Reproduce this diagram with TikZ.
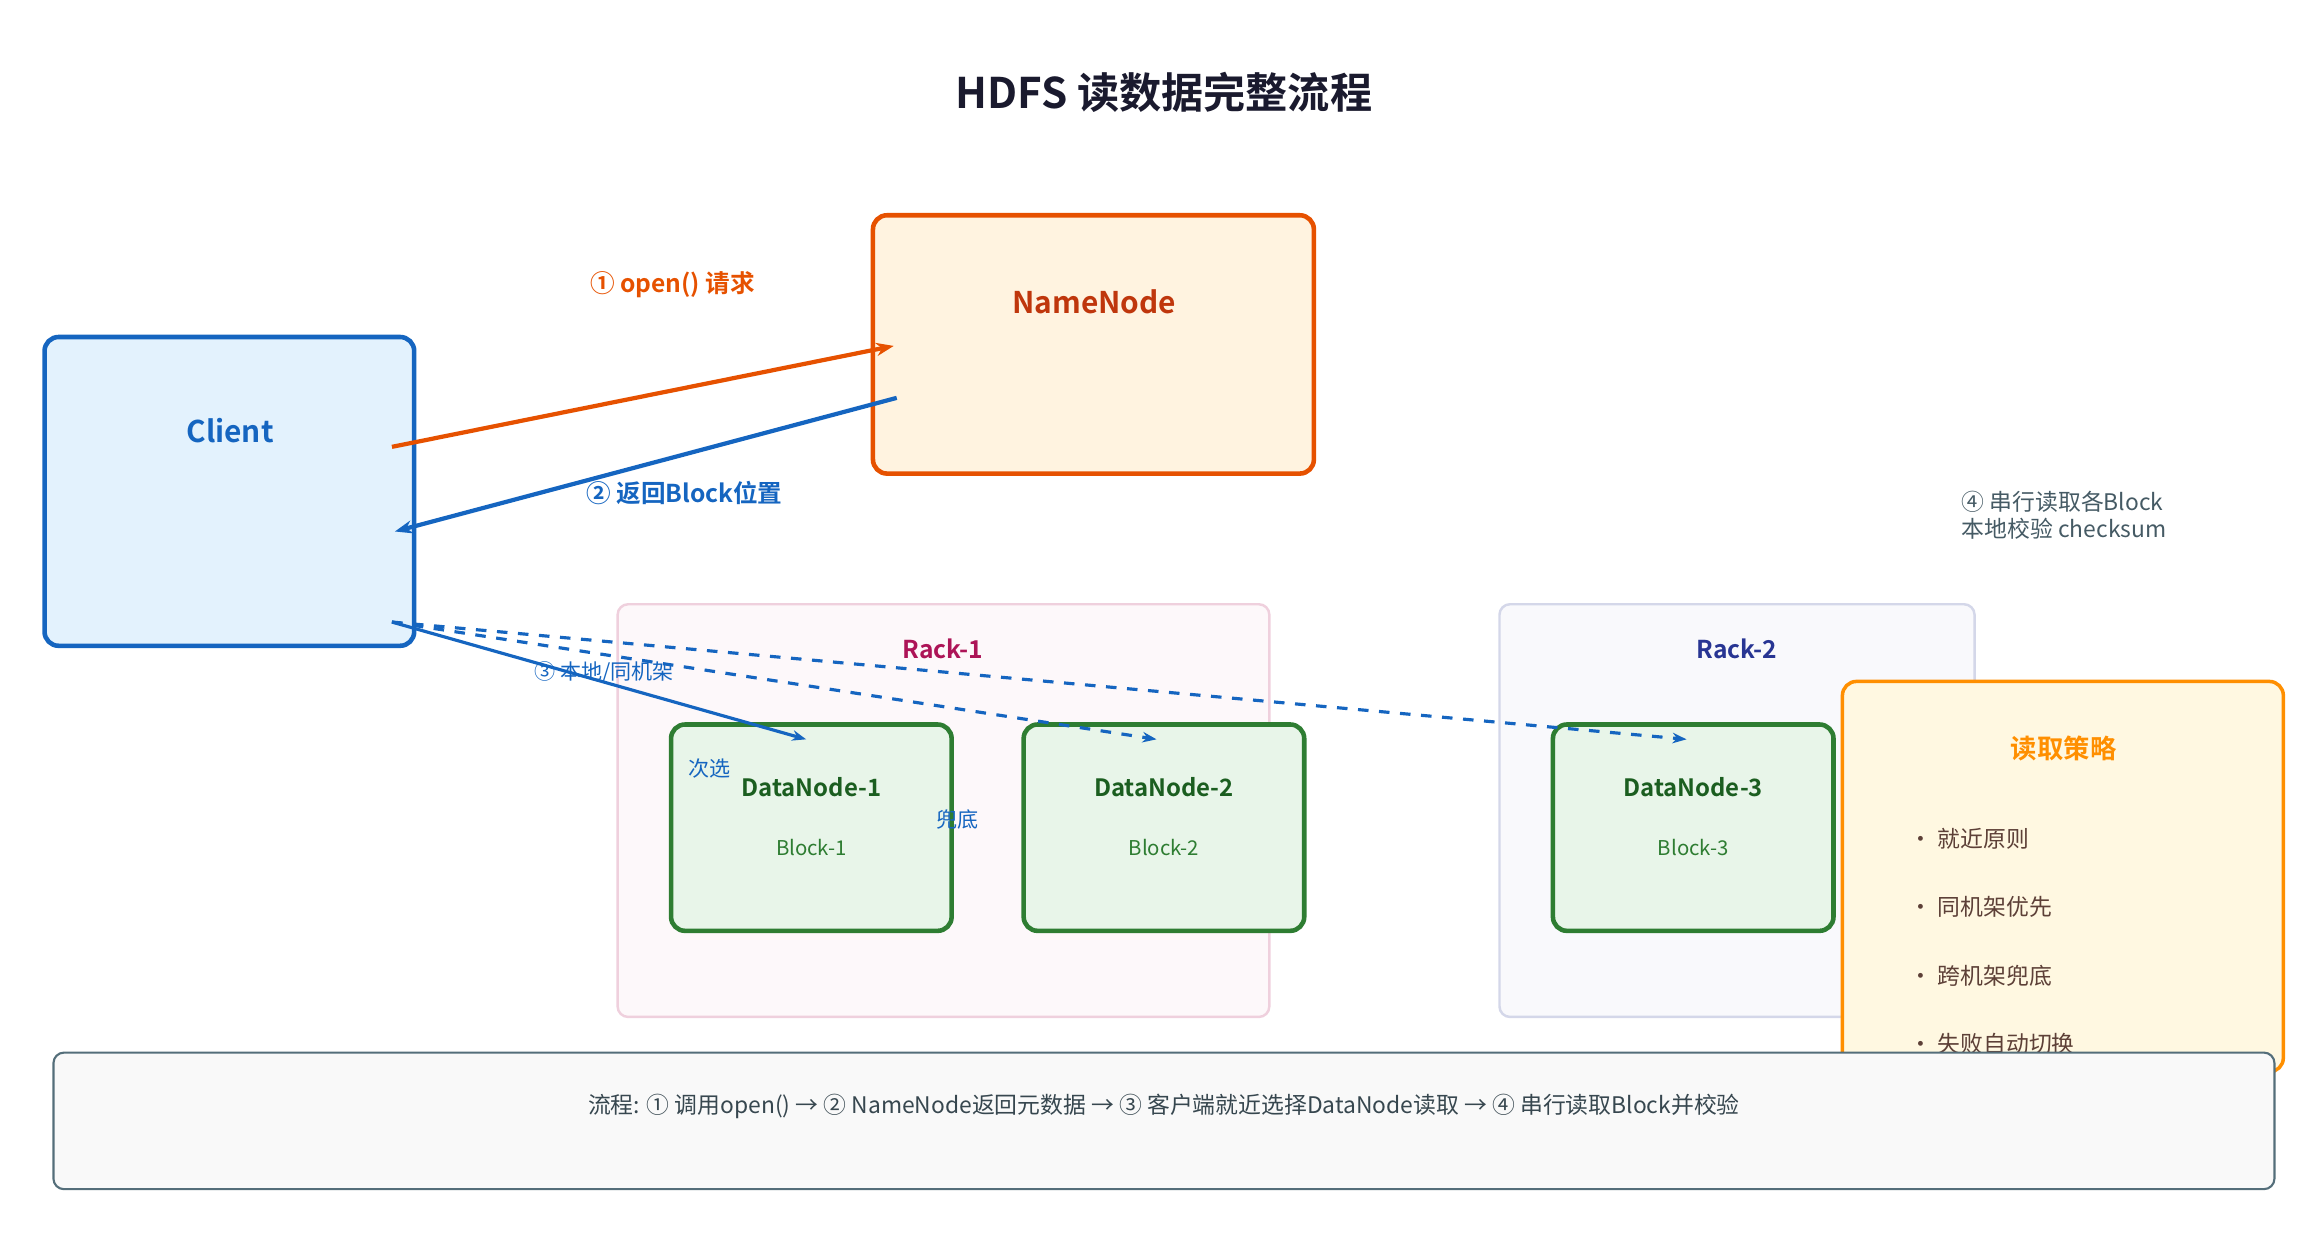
\documentclass[tikz,border=0pt]{standalone}
\usepackage{fontspec}
\setmainfont{Noto Sans CJK SC}[BoldFont={Noto Sans CJK SC Bold}]
\usetikzlibrary{positioning,arrows.meta}
\def\u{0.014846cm}
\definecolor{clientfill}{HTML}{E3F2FD}
\definecolor{clientline}{HTML}{1565C0}
\definecolor{nnfill}{HTML}{FFF3E0}
\definecolor{nnline}{HTML}{E65100}
\definecolor{nntext}{HTML}{BF360C}
\definecolor{dnfill}{HTML}{E8F5E9}
\definecolor{dnline}{HTML}{2E7D32}
\definecolor{dntext}{HTML}{1B5E20}
\definecolor{rackone}{HTML}{AD1457}
\definecolor{racktwo}{HTML}{283593}
\definecolor{stratfill}{HTML}{FFF8E1}
\definecolor{stratline}{HTML}{FF8F00}
\definecolor{strattext}{HTML}{5D4037}
\definecolor{notetext}{HTML}{455A64}
\definecolor{footline}{HTML}{546E7A}
\definecolor{foottext}{HTML}{37474F}
\definecolor{titletext}{HTML}{1A1A2E}
\tikzset{
  box/.style={draw,rectangle,rounded corners=4pt,line width=1.3pt},
  rack/.style={draw,rectangle,rounded corners=3pt,line width=0.7pt},
  dn/.style={box,fill=dnfill,draw=dnline,minimum width=189*\u,minimum height=139*\u},
  flow/.style={-{Stealth[length=5pt]},line width=1.2pt},
  probe/.style={-{Stealth[length=4pt]},line width=0.9pt,clientline},
}
\begin{document}
\begin{tikzpicture}[x=\u,y=-\u]
\useasboundingbox (0,0) rectangle (1560,832);

\node (title) [font=\bfseries\fontsize{12}{14}\selectfont,text=titletext] at (784,62) {HDFS 读数据完整流程};

% main boxes
\node (client) [box,fill=clientfill,draw=clientline,minimum width=249*\u,minimum height=208*\u] at (154.5,331) {};
\node [font=\bfseries\fontsize{8.5}{10}\selectfont,text=clientline] at (155,290) {Client};
\node (namenode) [box,fill=nnfill,draw=nnline,minimum width=297*\u,minimum height=174*\u] at (736.5,232) {};
\node [font=\bfseries\fontsize{8.5}{10}\selectfont,text=nntext] at (737,203) {NameNode};

% racks
\node (rack1) [rack,fill=rackone!3,draw=rackone!20,minimum width=439*\u,minimum height=278*\u] at (635.5,546) {};
\node [font=\bfseries\fontsize{7}{8}\selectfont,text=rackone] at (635,437) {Rack-1};
\node (rack2) [rack,fill=racktwo!3,draw=racktwo!20,minimum width=320*\u,minimum height=278*\u] at (1170,546) {};
\node [font=\bfseries\fontsize{7}{8}\selectfont,text=racktwo] at (1170,437) {Rack-2};

% datanodes
\foreach \i/\x in {1/546.5,2/784,3/1140.5}{
  \node (dn\i) [dn] at (\x,557.5) {};
  \node [font=\bfseries\fontsize{6.8}{8}\selectfont,text=dntext] at (\x,530) {DataNode-\i};
  \node [font=\fontsize{5.8}{7}\selectfont,text=dnline] at (\x,571) {Block-\i};
}

% open / return
\coordinate (c_out) at (264,301);
\coordinate (nn_in) at (602,233);
\coordinate (nn_out) at (604,268);
\coordinate (c_in) at (266,358);
\draw[flow,nnline] (c_out) -- (nn_in);
\draw[flow,clientline] (nn_out) -- (c_in);
\node [font=\bfseries\fontsize{7}{8}\selectfont,text=nnline] at (453,192) {① open() 请求};
\node [font=\bfseries\fontsize{7}{8}\selectfont,text=clientline] at (461,332) {② 返回Block位置};

% reads
\coordinate (c_read) at (264,419);
\coordinate (dn1_in) at (543,498);
\coordinate (dn2_in) at (779,498);
\coordinate (dn3_in) at (1136,498);
\draw[probe] (c_read) -- (dn1_in);
\draw[probe,dashed] (c_read) -- (dn2_in);
\draw[probe,dashed] (c_read) -- (dn3_in);
\node [font=\fontsize{6}{7}\selectfont,text=clientline] at (407,453) {③ 本地/同机架};
\node [font=\fontsize{6}{7}\selectfont,text=clientline] at (478,518) {次选};
\node [font=\fontsize{6}{7}\selectfont,text=clientline] at (645,552) {兜底};

\node (note) [anchor=west,align=left,font=\fontsize{6.5}{7.5}\selectfont,text=notetext] at (1313,347) {④ 串行读取各Block\\本地校验 checksum};

% strategy
\node (strat) [box,fill=stratfill,draw=stratline,line width=1pt,minimum width=297*\u,minimum height=263*\u] at (1389.5,590.5) {};
\node [font=\bfseries\fontsize{7.5}{9}\selectfont,text=stratline] at (1390,504) {读取策略};
\foreach \t [count=\k] in {就近原则,同机架优先,跨机架兜底,失败自动切换}
  \node [anchor=west,font=\fontsize{6.5}{8}\selectfont,text=strattext] at (1278,519+46*\k) {• \t};

% footer
\node (foot) [draw=footline,fill=gray!5,rectangle,rounded corners=3pt,line width=0.6pt,minimum width=1496*\u,minimum height=92*\u] at (784,755) {};
\node [font=\fontsize{6.5}{8}\selectfont,text=foottext] at (784,745) {流程: ① 调用open() → ② NameNode返回元数据 → ③ 客户端就近选择DataNode读取 → ④ 串行读取Block并校验};
\end{tikzpicture}
\end{document}
